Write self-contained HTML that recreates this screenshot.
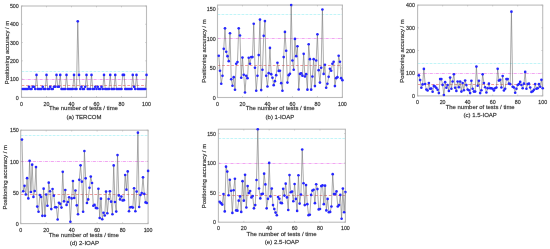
<!DOCTYPE html>
<html><head><meta charset="utf-8"><title>Positioning accuracy comparison</title>
<style>html,body{margin:0;padding:0;background:#fff;width:550px;height:249px;overflow:hidden}
svg{display:block;font-family:"Liberation Sans", Arial, Helvetica, sans-serif;fill:#2b2b2b}
text{stroke:#2b2b2b;stroke-width:0.3px;stroke-opacity:0.5}
.cy{stroke:#c2f5f8;stroke-width:1;stroke-dasharray:2.8,1.2;fill:none}
.mg{stroke:#f2a6f2;stroke-width:1;stroke-dasharray:3.2,1,0.8,1;fill:none}
.rd{stroke:#f19a9a;stroke-width:1;stroke-dasharray:2.8,1.8;fill:none}
.ln{fill:none;stroke:#747474;stroke-width:0.6;stroke-linejoin:round}
.mk circle{fill:#2626ff}
.ax{fill:none;stroke:#bcbcbc;stroke-width:1.1}
.tk{fill:none;stroke:#b0b0b0;stroke-width:0.6}
.t{font-size:5.3px}
</style>
</head><body><svg width="550" height="249" viewBox="0 0 550 249"><g><path class="cy" d="M21.5 71.5H146.5"/><path class="mg" d="M21.5 79.5H146.5"/><path class="rd" d="M21.5 85.5H146.5"/><rect class="ax" x="21.5" y="6" width="125" height="91.4"/><polyline class="ln" points="22.75,88.99 24,88.99 25.25,88.99 26.5,88.99 27.75,88.99 29,86.8 30.25,88.99 31.5,88.99 32.75,86.8 34,86.8 35.25,88.99 36.5,74.92 37.75,88.99 39,88.99 40.25,88.99 41.5,88.99 42.75,86.8 44,88.99 45.25,88.99 46.5,74.92 47.75,88.99 49,88.99 50.25,86.8 51.5,88.99 52.75,88.99 54,86.8 55.25,86.8 56.5,74.92 57.75,86.8 59,86.8 60.25,74.92 61.5,88.99 62.75,88.99 64,88.99 65.25,88.99 66.5,74.92 67.75,88.99 69,88.99 70.25,88.99 71.5,88.99 72.75,88.99 74,74.92 75.25,88.99 76.5,88.99 77.75,21.36 79,74.92 80.25,88.99 81.5,86.8 82.75,88.99 84,88.99 85.25,86.8 86.5,74.92 87.75,88.99 89,88.99 90.25,88.99 91.5,74.92 92.75,88.99 94,88.99 95.25,86.8 96.5,88.99 97.75,86.8 99,88.99 100.25,88.99 101.5,86.8 102.75,88.99 104,74.92 105.25,88.99 106.5,88.99 107.75,88.99 109,88.99 110.25,74.92 111.5,88.99 112.75,88.99 114,88.99 115.25,74.92 116.5,88.99 117.75,88.99 119,88.99 120.25,88.99 121.5,88.99 122.75,74.92 124,74.92 125.25,88.99 126.5,88.99 127.75,88.99 129,88.99 130.25,88.99 131.5,88.99 132.75,74.92 134,86.8 135.25,88.99 136.5,74.92 137.75,88.99 139,88.99 140.25,88.99 141.5,88.99 142.75,88.99 144,88.99 145.25,88.99 146.5,74.92"/><g class="mk"><circle cx="22.75" cy="88.99" r="1.32"/><circle cx="24" cy="88.99" r="1.32"/><circle cx="25.25" cy="88.99" r="1.32"/><circle cx="26.5" cy="88.99" r="1.32"/><circle cx="27.75" cy="88.99" r="1.32"/><circle cx="29" cy="86.8" r="1.32"/><circle cx="30.25" cy="88.99" r="1.32"/><circle cx="31.5" cy="88.99" r="1.32"/><circle cx="32.75" cy="86.8" r="1.32"/><circle cx="34" cy="86.8" r="1.32"/><circle cx="35.25" cy="88.99" r="1.32"/><circle cx="36.5" cy="74.92" r="1.32"/><circle cx="37.75" cy="88.99" r="1.32"/><circle cx="39" cy="88.99" r="1.32"/><circle cx="40.25" cy="88.99" r="1.32"/><circle cx="41.5" cy="88.99" r="1.32"/><circle cx="42.75" cy="86.8" r="1.32"/><circle cx="44" cy="88.99" r="1.32"/><circle cx="45.25" cy="88.99" r="1.32"/><circle cx="46.5" cy="74.92" r="1.32"/><circle cx="47.75" cy="88.99" r="1.32"/><circle cx="49" cy="88.99" r="1.32"/><circle cx="50.25" cy="86.8" r="1.32"/><circle cx="51.5" cy="88.99" r="1.32"/><circle cx="52.75" cy="88.99" r="1.32"/><circle cx="54" cy="86.8" r="1.32"/><circle cx="55.25" cy="86.8" r="1.32"/><circle cx="56.5" cy="74.92" r="1.32"/><circle cx="57.75" cy="86.8" r="1.32"/><circle cx="59" cy="86.8" r="1.32"/><circle cx="60.25" cy="74.92" r="1.32"/><circle cx="61.5" cy="88.99" r="1.32"/><circle cx="62.75" cy="88.99" r="1.32"/><circle cx="64" cy="88.99" r="1.32"/><circle cx="65.25" cy="88.99" r="1.32"/><circle cx="66.5" cy="74.92" r="1.32"/><circle cx="67.75" cy="88.99" r="1.32"/><circle cx="69" cy="88.99" r="1.32"/><circle cx="70.25" cy="88.99" r="1.32"/><circle cx="71.5" cy="88.99" r="1.32"/><circle cx="72.75" cy="88.99" r="1.32"/><circle cx="74" cy="74.92" r="1.32"/><circle cx="75.25" cy="88.99" r="1.32"/><circle cx="76.5" cy="88.99" r="1.32"/><circle cx="77.75" cy="21.36" r="1.32"/><circle cx="79" cy="74.92" r="1.32"/><circle cx="80.25" cy="88.99" r="1.32"/><circle cx="81.5" cy="86.8" r="1.32"/><circle cx="82.75" cy="88.99" r="1.32"/><circle cx="84" cy="88.99" r="1.32"/><circle cx="85.25" cy="86.8" r="1.32"/><circle cx="86.5" cy="74.92" r="1.32"/><circle cx="87.75" cy="88.99" r="1.32"/><circle cx="89" cy="88.99" r="1.32"/><circle cx="90.25" cy="88.99" r="1.32"/><circle cx="91.5" cy="74.92" r="1.32"/><circle cx="92.75" cy="88.99" r="1.32"/><circle cx="94" cy="88.99" r="1.32"/><circle cx="95.25" cy="86.8" r="1.32"/><circle cx="96.5" cy="88.99" r="1.32"/><circle cx="97.75" cy="86.8" r="1.32"/><circle cx="99" cy="88.99" r="1.32"/><circle cx="100.25" cy="88.99" r="1.32"/><circle cx="101.5" cy="86.8" r="1.32"/><circle cx="102.75" cy="88.99" r="1.32"/><circle cx="104" cy="74.92" r="1.32"/><circle cx="105.25" cy="88.99" r="1.32"/><circle cx="106.5" cy="88.99" r="1.32"/><circle cx="107.75" cy="88.99" r="1.32"/><circle cx="109" cy="88.99" r="1.32"/><circle cx="110.25" cy="74.92" r="1.32"/><circle cx="111.5" cy="88.99" r="1.32"/><circle cx="112.75" cy="88.99" r="1.32"/><circle cx="114" cy="88.99" r="1.32"/><circle cx="115.25" cy="74.92" r="1.32"/><circle cx="116.5" cy="88.99" r="1.32"/><circle cx="117.75" cy="88.99" r="1.32"/><circle cx="119" cy="88.99" r="1.32"/><circle cx="120.25" cy="88.99" r="1.32"/><circle cx="121.5" cy="88.99" r="1.32"/><circle cx="122.75" cy="74.92" r="1.32"/><circle cx="124" cy="74.92" r="1.32"/><circle cx="125.25" cy="88.99" r="1.32"/><circle cx="126.5" cy="88.99" r="1.32"/><circle cx="127.75" cy="88.99" r="1.32"/><circle cx="129" cy="88.99" r="1.32"/><circle cx="130.25" cy="88.99" r="1.32"/><circle cx="131.5" cy="88.99" r="1.32"/><circle cx="132.75" cy="74.92" r="1.32"/><circle cx="134" cy="86.8" r="1.32"/><circle cx="135.25" cy="88.99" r="1.32"/><circle cx="136.5" cy="74.92" r="1.32"/><circle cx="137.75" cy="88.99" r="1.32"/><circle cx="139" cy="88.99" r="1.32"/><circle cx="140.25" cy="88.99" r="1.32"/><circle cx="141.5" cy="88.99" r="1.32"/><circle cx="142.75" cy="88.99" r="1.32"/><circle cx="144" cy="88.99" r="1.32"/><circle cx="145.25" cy="88.99" r="1.32"/><circle cx="146.5" cy="74.92" r="1.32"/></g><path class="tk" d="M21.5 97.4V96.1M21.5 6V7.3M46.5 97.4V96.1M46.5 6V7.3M71.5 97.4V96.1M71.5 6V7.3M96.5 97.4V96.1M96.5 6V7.3M121.5 97.4V96.1M121.5 6V7.3M146.5 97.4V96.1M146.5 6V7.3M21.5 97.4H22.8M146.5 97.4H145.2M21.5 79.12H22.8M146.5 79.12H145.2M21.5 60.84H22.8M146.5 60.84H145.2M21.5 42.56H22.8M146.5 42.56H145.2M21.5 24.28H22.8M146.5 24.28H145.2M21.5 6H22.8M146.5 6H145.2"/><text class="t" x="21.5" y="105.5" text-anchor="middle">0</text><text class="t" x="46.5" y="105.5" text-anchor="middle">20</text><text class="t" x="71.5" y="105.5" text-anchor="middle">40</text><text class="t" x="96.5" y="105.5" text-anchor="middle">60</text><text class="t" x="121.5" y="105.5" text-anchor="middle">80</text><text class="t" x="146.5" y="105.5" text-anchor="middle">100</text><text class="t" x="18.75" y="99.6" text-anchor="end">0</text><text class="t" x="18.75" y="81.32" text-anchor="end">100</text><text class="t" x="18.75" y="63.04" text-anchor="end">200</text><text class="t" x="18.75" y="44.76" text-anchor="end">300</text><text class="t" x="18.75" y="26.48" text-anchor="end">400</text><text class="t" x="18.75" y="8.2" text-anchor="end">500</text><text class="xl" x="83.4" y="110.2" text-anchor="middle" font-size="5.95">The number of tests / time</text><text class="yl" transform="translate(8.6,52.6) rotate(-90)" text-anchor="middle" font-size="5.85">Positioning accuracy / m</text><text class="cp" x="84" y="118.6" text-anchor="middle" font-size="6">(a) TERCOM</text></g><g><path class="cy" d="M217.5 14.5H342.4"/><path class="mg" d="M217.5 38.5H342.4"/><path class="rd" d="M217.5 65.5H342.4"/><rect class="ax" x="217.5" y="5.05" width="124.9" height="92.45"/><polyline class="ln" points="218.75,55.7 220,70.76 221.25,83.74 222.5,75.77 223.75,48.85 224.99,28.31 226.24,51.75 227.49,56.17 228.74,61.13 229.99,33.27 231.24,79.2 232.49,85.75 233.74,77.13 234.99,89.71 236.23,63.73 237.48,62.08 238.73,28.31 239.98,35.51 241.23,77.72 242.48,57.59 243.73,74.77 244.98,92.54 246.23,75.77 247.48,78.14 248.72,57.71 249.97,63.73 251.22,57.12 252.47,57.12 253.72,23.71 254.97,67.75 256.22,90.77 257.47,75.77 258.72,55.11 259.97,19.57 261.21,90.12 262.46,69.75 263.71,35.87 264.96,21.11 266.21,75.77 267.46,86.52 268.71,73.18 269.96,47.91 271.21,74.18 272.46,77.72 273.7,85.16 274.95,81.15 276.2,75.18 277.45,62.73 278.7,70.93 279.95,70.76 281.2,83.15 282.45,90.71 283.7,57.12 284.95,31.91 286.19,50.74 287.44,82.56 288.69,75.18 289.94,73.77 291.19,5.05 292.44,60.54 293.69,69.75 294.94,38.88 296.19,56.17 297.44,46.26 298.68,89.53 299.93,73.89 301.18,73.3 302.43,75.66 303.68,53.81 304.93,76.54 306.18,74.18 307.43,89.65 308.68,44.25 309.93,59.13 311.17,89.65 312.42,76.54 313.67,59.13 314.92,86.11 316.17,60.54 317.42,34.33 318.67,70.17 319.92,82.56 321.17,67.75 322.42,9.48 323.66,73.89 324.91,64.74 326.16,87.76 327.41,83.74 328.66,76.84 329.91,68.75 331.16,70.76 332.41,63.73 333.66,61.72 334.91,86.11 336.15,78.14 337.4,77.13 338.65,55.7 339.9,61.72 341.15,78.14 342.4,80.14"/><g class="mk"><circle cx="218.75" cy="55.7" r="1.32"/><circle cx="220" cy="70.76" r="1.32"/><circle cx="221.25" cy="83.74" r="1.32"/><circle cx="222.5" cy="75.77" r="1.32"/><circle cx="223.75" cy="48.85" r="1.32"/><circle cx="224.99" cy="28.31" r="1.32"/><circle cx="226.24" cy="51.75" r="1.32"/><circle cx="227.49" cy="56.17" r="1.32"/><circle cx="228.74" cy="61.13" r="1.32"/><circle cx="229.99" cy="33.27" r="1.32"/><circle cx="231.24" cy="79.2" r="1.32"/><circle cx="232.49" cy="85.75" r="1.32"/><circle cx="233.74" cy="77.13" r="1.32"/><circle cx="234.99" cy="89.71" r="1.32"/><circle cx="236.23" cy="63.73" r="1.32"/><circle cx="237.48" cy="62.08" r="1.32"/><circle cx="238.73" cy="28.31" r="1.32"/><circle cx="239.98" cy="35.51" r="1.32"/><circle cx="241.23" cy="77.72" r="1.32"/><circle cx="242.48" cy="57.59" r="1.32"/><circle cx="243.73" cy="74.77" r="1.32"/><circle cx="244.98" cy="92.54" r="1.32"/><circle cx="246.23" cy="75.77" r="1.32"/><circle cx="247.48" cy="78.14" r="1.32"/><circle cx="248.72" cy="57.71" r="1.32"/><circle cx="249.97" cy="63.73" r="1.32"/><circle cx="251.22" cy="57.12" r="1.32"/><circle cx="252.47" cy="57.12" r="1.32"/><circle cx="253.72" cy="23.71" r="1.32"/><circle cx="254.97" cy="67.75" r="1.32"/><circle cx="256.22" cy="90.77" r="1.32"/><circle cx="257.47" cy="75.77" r="1.32"/><circle cx="258.72" cy="55.11" r="1.32"/><circle cx="259.97" cy="19.57" r="1.32"/><circle cx="261.21" cy="90.12" r="1.32"/><circle cx="262.46" cy="69.75" r="1.32"/><circle cx="263.71" cy="35.87" r="1.32"/><circle cx="264.96" cy="21.11" r="1.32"/><circle cx="266.21" cy="75.77" r="1.32"/><circle cx="267.46" cy="86.52" r="1.32"/><circle cx="268.71" cy="73.18" r="1.32"/><circle cx="269.96" cy="47.91" r="1.32"/><circle cx="271.21" cy="74.18" r="1.32"/><circle cx="272.46" cy="77.72" r="1.32"/><circle cx="273.7" cy="85.16" r="1.32"/><circle cx="274.95" cy="81.15" r="1.32"/><circle cx="276.2" cy="75.18" r="1.32"/><circle cx="277.45" cy="62.73" r="1.32"/><circle cx="278.7" cy="70.93" r="1.32"/><circle cx="279.95" cy="70.76" r="1.32"/><circle cx="281.2" cy="83.15" r="1.32"/><circle cx="282.45" cy="90.71" r="1.32"/><circle cx="283.7" cy="57.12" r="1.32"/><circle cx="284.95" cy="31.91" r="1.32"/><circle cx="286.19" cy="50.74" r="1.32"/><circle cx="287.44" cy="82.56" r="1.32"/><circle cx="288.69" cy="75.18" r="1.32"/><circle cx="289.94" cy="73.77" r="1.32"/><circle cx="291.19" cy="5.05" r="1.32"/><circle cx="292.44" cy="60.54" r="1.32"/><circle cx="293.69" cy="69.75" r="1.32"/><circle cx="294.94" cy="38.88" r="1.32"/><circle cx="296.19" cy="56.17" r="1.32"/><circle cx="297.44" cy="46.26" r="1.32"/><circle cx="298.68" cy="89.53" r="1.32"/><circle cx="299.93" cy="73.89" r="1.32"/><circle cx="301.18" cy="73.3" r="1.32"/><circle cx="302.43" cy="75.66" r="1.32"/><circle cx="303.68" cy="53.81" r="1.32"/><circle cx="304.93" cy="76.54" r="1.32"/><circle cx="306.18" cy="74.18" r="1.32"/><circle cx="307.43" cy="89.65" r="1.32"/><circle cx="308.68" cy="44.25" r="1.32"/><circle cx="309.93" cy="59.13" r="1.32"/><circle cx="311.17" cy="89.65" r="1.32"/><circle cx="312.42" cy="76.54" r="1.32"/><circle cx="313.67" cy="59.13" r="1.32"/><circle cx="314.92" cy="86.11" r="1.32"/><circle cx="316.17" cy="60.54" r="1.32"/><circle cx="317.42" cy="34.33" r="1.32"/><circle cx="318.67" cy="70.17" r="1.32"/><circle cx="319.92" cy="82.56" r="1.32"/><circle cx="321.17" cy="67.75" r="1.32"/><circle cx="322.42" cy="9.48" r="1.32"/><circle cx="323.66" cy="73.89" r="1.32"/><circle cx="324.91" cy="64.74" r="1.32"/><circle cx="326.16" cy="87.76" r="1.32"/><circle cx="327.41" cy="83.74" r="1.32"/><circle cx="328.66" cy="76.84" r="1.32"/><circle cx="329.91" cy="68.75" r="1.32"/><circle cx="331.16" cy="70.76" r="1.32"/><circle cx="332.41" cy="63.73" r="1.32"/><circle cx="333.66" cy="61.72" r="1.32"/><circle cx="334.91" cy="86.11" r="1.32"/><circle cx="336.15" cy="78.14" r="1.32"/><circle cx="337.4" cy="77.13" r="1.32"/><circle cx="338.65" cy="55.7" r="1.32"/><circle cx="339.9" cy="61.72" r="1.32"/><circle cx="341.15" cy="78.14" r="1.32"/><circle cx="342.4" cy="80.14" r="1.32"/></g><path class="tk" d="M217.5 97.5V96.2M217.5 5.05V6.35M242.48 97.5V96.2M242.48 5.05V6.35M267.46 97.5V96.2M267.46 5.05V6.35M292.44 97.5V96.2M292.44 5.05V6.35M317.42 97.5V96.2M317.42 5.05V6.35M342.4 97.5V96.2M342.4 5.05V6.35M217.5 97.5H218.8M342.4 97.5H341.1M217.5 67.98H218.8M342.4 67.98H341.1M217.5 38.46H218.8M342.4 38.46H341.1M217.5 8.95H218.8M342.4 8.95H341.1"/><text class="t" x="217.5" y="105.65" text-anchor="middle">0</text><text class="t" x="242.48" y="105.65" text-anchor="middle">20</text><text class="t" x="267.46" y="105.65" text-anchor="middle">40</text><text class="t" x="292.44" y="105.65" text-anchor="middle">60</text><text class="t" x="317.42" y="105.65" text-anchor="middle">80</text><text class="t" x="342.4" y="105.65" text-anchor="middle">100</text><text class="t" x="215.7" y="99.7" text-anchor="end">0</text><text class="t" x="215.7" y="70.18" text-anchor="end">50</text><text class="t" x="215.7" y="40.66" text-anchor="end">100</text><text class="t" x="215.7" y="11.15" text-anchor="end">150</text><text class="xl" x="280.15" y="110.4" text-anchor="middle" font-size="5.95">The number of tests / time</text><text class="yl" transform="translate(205.8,51.1) rotate(-90)" text-anchor="middle" font-size="5.85">Positioning accuracy / m</text><text class="cp" x="279.95" y="118.5" text-anchor="middle" font-size="6">(b) 1-IOAP</text></g><g><path class="cy" d="M417.6 63.5H542.7"/><path class="mg" d="M417.6 73.5H542.7"/><path class="rd" d="M417.6 84.5H542.7"/><rect class="ax" x="417.6" y="5.1" width="125.1" height="90.8"/><polyline class="ln" points="418.85,75.31 420.1,80.1 421.35,87.8 422.6,84.39 423.86,68.91 425.11,84.01 426.36,89.5 427.61,90.5 428.86,83.01 430.11,88.79 431.36,88.5 432.61,91.7 433.86,85.91 435.11,86.59 436.37,88 437.62,89.79 438.87,93.11 440.12,79.1 441.37,79.1 442.62,84.89 443.87,94.99 445.12,82.19 446.37,87.73 447.62,85.09 448.88,90.91 450.13,77.6 451.38,88.7 452.63,81.51 453.88,74.29 455.13,87.73 456.38,90.91 457.63,81.51 458.88,87.3 460.13,81.51 461.39,91.61 462.64,83.01 463.89,90.2 465.14,80.51 466.39,85.09 467.64,89.5 468.89,90.2 470.14,93.11 471.39,80.8 472.64,88.7 473.9,91.61 475.15,91.61 476.4,66.62 477.65,85.8 478.9,80.8 480.15,93.11 481.4,90.2 482.65,74.34 483.9,82.96 485.15,87.27 486.41,92.5 487.66,88.2 488.91,83.66 490.16,88.2 491.41,88.2 492.66,88.7 493.91,90.52 495.16,88.2 496.41,87.5 497.66,68.84 498.92,80.6 500.17,79.83 501.42,87.5 502.67,76.01 503.92,90.52 505.17,88.7 506.42,79.1 507.67,79.1 508.92,83.66 510.17,84.12 511.43,11.68 512.68,86.71 513.93,87.5 515.18,92.79 516.43,88.7 517.68,85.05 518.93,84.12 520.18,81.89 521.43,85.05 522.68,88.2 523.94,83.66 525.19,71.91 526.44,88.7 527.69,84.12 528.94,83.66 530.19,87.5 531.44,92.04 532.69,91.29 533.94,89.79 535.19,84.12 536.45,88.7 537.7,88.2 538.95,84.12 540.2,86.71 541.45,79.83 542.7,88.2"/><g class="mk"><circle cx="418.85" cy="75.31" r="1.32"/><circle cx="420.1" cy="80.1" r="1.32"/><circle cx="421.35" cy="87.8" r="1.32"/><circle cx="422.6" cy="84.39" r="1.32"/><circle cx="423.86" cy="68.91" r="1.32"/><circle cx="425.11" cy="84.01" r="1.32"/><circle cx="426.36" cy="89.5" r="1.32"/><circle cx="427.61" cy="90.5" r="1.32"/><circle cx="428.86" cy="83.01" r="1.32"/><circle cx="430.11" cy="88.79" r="1.32"/><circle cx="431.36" cy="88.5" r="1.32"/><circle cx="432.61" cy="91.7" r="1.32"/><circle cx="433.86" cy="85.91" r="1.32"/><circle cx="435.11" cy="86.59" r="1.32"/><circle cx="436.37" cy="88" r="1.32"/><circle cx="437.62" cy="89.79" r="1.32"/><circle cx="438.87" cy="93.11" r="1.32"/><circle cx="440.12" cy="79.1" r="1.32"/><circle cx="441.37" cy="79.1" r="1.32"/><circle cx="442.62" cy="84.89" r="1.32"/><circle cx="443.87" cy="94.99" r="1.32"/><circle cx="445.12" cy="82.19" r="1.32"/><circle cx="446.37" cy="87.73" r="1.32"/><circle cx="447.62" cy="85.09" r="1.32"/><circle cx="448.88" cy="90.91" r="1.32"/><circle cx="450.13" cy="77.6" r="1.32"/><circle cx="451.38" cy="88.7" r="1.32"/><circle cx="452.63" cy="81.51" r="1.32"/><circle cx="453.88" cy="74.29" r="1.32"/><circle cx="455.13" cy="87.73" r="1.32"/><circle cx="456.38" cy="90.91" r="1.32"/><circle cx="457.63" cy="81.51" r="1.32"/><circle cx="458.88" cy="87.3" r="1.32"/><circle cx="460.13" cy="81.51" r="1.32"/><circle cx="461.39" cy="91.61" r="1.32"/><circle cx="462.64" cy="83.01" r="1.32"/><circle cx="463.89" cy="90.2" r="1.32"/><circle cx="465.14" cy="80.51" r="1.32"/><circle cx="466.39" cy="85.09" r="1.32"/><circle cx="467.64" cy="89.5" r="1.32"/><circle cx="468.89" cy="90.2" r="1.32"/><circle cx="470.14" cy="93.11" r="1.32"/><circle cx="471.39" cy="80.8" r="1.32"/><circle cx="472.64" cy="88.7" r="1.32"/><circle cx="473.9" cy="91.61" r="1.32"/><circle cx="475.15" cy="91.61" r="1.32"/><circle cx="476.4" cy="66.62" r="1.32"/><circle cx="477.65" cy="85.8" r="1.32"/><circle cx="478.9" cy="80.8" r="1.32"/><circle cx="480.15" cy="93.11" r="1.32"/><circle cx="481.4" cy="90.2" r="1.32"/><circle cx="482.65" cy="74.34" r="1.32"/><circle cx="483.9" cy="82.96" r="1.32"/><circle cx="485.15" cy="87.27" r="1.32"/><circle cx="486.41" cy="92.5" r="1.32"/><circle cx="487.66" cy="88.2" r="1.32"/><circle cx="488.91" cy="83.66" r="1.32"/><circle cx="490.16" cy="88.2" r="1.32"/><circle cx="491.41" cy="88.2" r="1.32"/><circle cx="492.66" cy="88.7" r="1.32"/><circle cx="493.91" cy="90.52" r="1.32"/><circle cx="495.16" cy="88.2" r="1.32"/><circle cx="496.41" cy="87.5" r="1.32"/><circle cx="497.66" cy="68.84" r="1.32"/><circle cx="498.92" cy="80.6" r="1.32"/><circle cx="500.17" cy="79.83" r="1.32"/><circle cx="501.42" cy="87.5" r="1.32"/><circle cx="502.67" cy="76.01" r="1.32"/><circle cx="503.92" cy="90.52" r="1.32"/><circle cx="505.17" cy="88.7" r="1.32"/><circle cx="506.42" cy="79.1" r="1.32"/><circle cx="507.67" cy="79.1" r="1.32"/><circle cx="508.92" cy="83.66" r="1.32"/><circle cx="510.17" cy="84.12" r="1.32"/><circle cx="511.43" cy="11.68" r="1.32"/><circle cx="512.68" cy="86.71" r="1.32"/><circle cx="513.93" cy="87.5" r="1.32"/><circle cx="515.18" cy="92.79" r="1.32"/><circle cx="516.43" cy="88.7" r="1.32"/><circle cx="517.68" cy="85.05" r="1.32"/><circle cx="518.93" cy="84.12" r="1.32"/><circle cx="520.18" cy="81.89" r="1.32"/><circle cx="521.43" cy="85.05" r="1.32"/><circle cx="522.68" cy="88.2" r="1.32"/><circle cx="523.94" cy="83.66" r="1.32"/><circle cx="525.19" cy="71.91" r="1.32"/><circle cx="526.44" cy="88.7" r="1.32"/><circle cx="527.69" cy="84.12" r="1.32"/><circle cx="528.94" cy="83.66" r="1.32"/><circle cx="530.19" cy="87.5" r="1.32"/><circle cx="531.44" cy="92.04" r="1.32"/><circle cx="532.69" cy="91.29" r="1.32"/><circle cx="533.94" cy="89.79" r="1.32"/><circle cx="535.19" cy="84.12" r="1.32"/><circle cx="536.45" cy="88.7" r="1.32"/><circle cx="537.7" cy="88.2" r="1.32"/><circle cx="538.95" cy="84.12" r="1.32"/><circle cx="540.2" cy="86.71" r="1.32"/><circle cx="541.45" cy="79.83" r="1.32"/><circle cx="542.7" cy="88.2" r="1.32"/></g><path class="tk" d="M417.6 95.9V94.6M417.6 5.1V6.4M442.62 95.9V94.6M442.62 5.1V6.4M467.64 95.9V94.6M467.64 5.1V6.4M492.66 95.9V94.6M492.66 5.1V6.4M517.68 95.9V94.6M517.68 5.1V6.4M542.7 95.9V94.6M542.7 5.1V6.4M417.6 95.9H418.9M542.7 95.9H541.4M417.6 73.2H418.9M542.7 73.2H541.4M417.6 50.5H418.9M542.7 50.5H541.4M417.6 27.8H418.9M542.7 27.8H541.4M417.6 5.1H418.9M542.7 5.1H541.4"/><text class="t" x="417.6" y="103.9" text-anchor="middle">0</text><text class="t" x="442.62" y="103.9" text-anchor="middle">20</text><text class="t" x="467.64" y="103.9" text-anchor="middle">40</text><text class="t" x="492.66" y="103.9" text-anchor="middle">60</text><text class="t" x="517.68" y="103.9" text-anchor="middle">80</text><text class="t" x="542.7" y="103.9" text-anchor="middle">100</text><text class="t" x="414.85" y="98.1" text-anchor="end">0</text><text class="t" x="414.85" y="75.4" text-anchor="end">100</text><text class="t" x="414.85" y="52.7" text-anchor="end">200</text><text class="t" x="414.85" y="30" text-anchor="end">300</text><text class="t" x="414.85" y="7.3" text-anchor="end">400</text><text class="xl" x="480.15" y="108.6" text-anchor="middle" font-size="5.95">The number of tests / time</text><text class="yl" transform="translate(404.4,51.1) rotate(-90)" text-anchor="middle" font-size="5.85">Positioning accuracy / m</text><text class="cp" x="480.15" y="116.5" text-anchor="middle" font-size="6">(c) 1.5-IOAP</text></g><g><path class="cy" d="M20.7 135.5H148.1"/><path class="mg" d="M20.7 161.5H148.1"/><path class="rd" d="M20.7 194.5H148.1"/><rect class="ax" x="20.7" y="130.2" width="127.4" height="93.4"/><polyline class="ln" points="21.97,139.6 23.25,191.22 24.52,185.87 25.8,194.46 27.07,178.15 28.34,198.38 29.62,160.84 30.89,191.97 32.17,164.63 33.44,196.89 34.71,190.97 35.99,167.12 37.26,206.6 38.54,211.77 39.81,194.96 41.08,196.89 42.36,215.82 43.63,188.67 44.91,215.82 46.18,194.46 47.45,205.79 48.73,182.63 50,191.22 51.28,209.09 52.55,188.98 53.82,195.64 55.1,207.29 56.37,207.29 57.65,219.49 58.92,202.87 60.19,203.86 61.47,207.6 62.74,171.86 64.02,201.37 65.29,190.04 66.56,204.92 67.84,201.99 69.11,197.2 70.39,221.73 71.66,198.38 72.93,180.95 74.21,197.95 75.48,190.47 76.76,205.36 78.03,214.26 79.3,179.83 80.58,165.32 81.85,181.63 83.13,211.77 84.4,151 85.67,178.33 86.95,203.05 88.22,199.38 89.5,187.8 90.77,176.59 92.04,183 93.32,205.79 94.59,204.92 95.87,207.91 97.14,208.28 98.41,188.73 99.69,218 100.96,198.69 102.24,219.24 103.51,212.77 104.78,215.51 106.06,191.59 107.33,213.2 108.61,199 109.88,191.22 111.15,201.68 112.43,214.26 113.7,165.44 114.98,201.99 116.25,211.58 117.52,155.11 118.8,195.39 120.07,199.38 121.35,196.45 122.62,200.5 123.89,200.19 125.17,174.97 126.44,189.66 127.72,171.42 128.99,211.27 130.26,207.29 131.54,206.97 132.81,207.6 134.09,188.23 135.36,211.27 136.63,191.59 137.91,132.63 139.18,206.97 140.46,194.96 141.73,193.09 143,177.34 144.28,193.9 145.55,202.43 146.83,203.05 148.1,170.92"/><g class="mk"><circle cx="21.97" cy="139.6" r="1.32"/><circle cx="23.25" cy="191.22" r="1.32"/><circle cx="24.52" cy="185.87" r="1.32"/><circle cx="25.8" cy="194.46" r="1.32"/><circle cx="27.07" cy="178.15" r="1.32"/><circle cx="28.34" cy="198.38" r="1.32"/><circle cx="29.62" cy="160.84" r="1.32"/><circle cx="30.89" cy="191.97" r="1.32"/><circle cx="32.17" cy="164.63" r="1.32"/><circle cx="33.44" cy="196.89" r="1.32"/><circle cx="34.71" cy="190.97" r="1.32"/><circle cx="35.99" cy="167.12" r="1.32"/><circle cx="37.26" cy="206.6" r="1.32"/><circle cx="38.54" cy="211.77" r="1.32"/><circle cx="39.81" cy="194.96" r="1.32"/><circle cx="41.08" cy="196.89" r="1.32"/><circle cx="42.36" cy="215.82" r="1.32"/><circle cx="43.63" cy="188.67" r="1.32"/><circle cx="44.91" cy="215.82" r="1.32"/><circle cx="46.18" cy="194.46" r="1.32"/><circle cx="47.45" cy="205.79" r="1.32"/><circle cx="48.73" cy="182.63" r="1.32"/><circle cx="50" cy="191.22" r="1.32"/><circle cx="51.28" cy="209.09" r="1.32"/><circle cx="52.55" cy="188.98" r="1.32"/><circle cx="53.82" cy="195.64" r="1.32"/><circle cx="55.1" cy="207.29" r="1.32"/><circle cx="56.37" cy="207.29" r="1.32"/><circle cx="57.65" cy="219.49" r="1.32"/><circle cx="58.92" cy="202.87" r="1.32"/><circle cx="60.19" cy="203.86" r="1.32"/><circle cx="61.47" cy="207.6" r="1.32"/><circle cx="62.74" cy="171.86" r="1.32"/><circle cx="64.02" cy="201.37" r="1.32"/><circle cx="65.29" cy="190.04" r="1.32"/><circle cx="66.56" cy="204.92" r="1.32"/><circle cx="67.84" cy="201.99" r="1.32"/><circle cx="69.11" cy="197.2" r="1.32"/><circle cx="70.39" cy="221.73" r="1.32"/><circle cx="71.66" cy="198.38" r="1.32"/><circle cx="72.93" cy="180.95" r="1.32"/><circle cx="74.21" cy="197.95" r="1.32"/><circle cx="75.48" cy="190.47" r="1.32"/><circle cx="76.76" cy="205.36" r="1.32"/><circle cx="78.03" cy="214.26" r="1.32"/><circle cx="79.3" cy="179.83" r="1.32"/><circle cx="80.58" cy="165.32" r="1.32"/><circle cx="81.85" cy="181.63" r="1.32"/><circle cx="83.13" cy="211.77" r="1.32"/><circle cx="84.4" cy="151" r="1.32"/><circle cx="85.67" cy="178.33" r="1.32"/><circle cx="86.95" cy="203.05" r="1.32"/><circle cx="88.22" cy="199.38" r="1.32"/><circle cx="89.5" cy="187.8" r="1.32"/><circle cx="90.77" cy="176.59" r="1.32"/><circle cx="92.04" cy="183" r="1.32"/><circle cx="93.32" cy="205.79" r="1.32"/><circle cx="94.59" cy="204.92" r="1.32"/><circle cx="95.87" cy="207.91" r="1.32"/><circle cx="97.14" cy="208.28" r="1.32"/><circle cx="98.41" cy="188.73" r="1.32"/><circle cx="99.69" cy="218" r="1.32"/><circle cx="100.96" cy="198.69" r="1.32"/><circle cx="102.24" cy="219.24" r="1.32"/><circle cx="103.51" cy="212.77" r="1.32"/><circle cx="104.78" cy="215.51" r="1.32"/><circle cx="106.06" cy="191.59" r="1.32"/><circle cx="107.33" cy="213.2" r="1.32"/><circle cx="108.61" cy="199" r="1.32"/><circle cx="109.88" cy="191.22" r="1.32"/><circle cx="111.15" cy="201.68" r="1.32"/><circle cx="112.43" cy="214.26" r="1.32"/><circle cx="113.7" cy="165.44" r="1.32"/><circle cx="114.98" cy="201.99" r="1.32"/><circle cx="116.25" cy="211.58" r="1.32"/><circle cx="117.52" cy="155.11" r="1.32"/><circle cx="118.8" cy="195.39" r="1.32"/><circle cx="120.07" cy="199.38" r="1.32"/><circle cx="121.35" cy="196.45" r="1.32"/><circle cx="122.62" cy="200.5" r="1.32"/><circle cx="123.89" cy="200.19" r="1.32"/><circle cx="125.17" cy="174.97" r="1.32"/><circle cx="126.44" cy="189.66" r="1.32"/><circle cx="127.72" cy="171.42" r="1.32"/><circle cx="128.99" cy="211.27" r="1.32"/><circle cx="130.26" cy="207.29" r="1.32"/><circle cx="131.54" cy="206.97" r="1.32"/><circle cx="132.81" cy="207.6" r="1.32"/><circle cx="134.09" cy="188.23" r="1.32"/><circle cx="135.36" cy="211.27" r="1.32"/><circle cx="136.63" cy="191.59" r="1.32"/><circle cx="137.91" cy="132.63" r="1.32"/><circle cx="139.18" cy="206.97" r="1.32"/><circle cx="140.46" cy="194.96" r="1.32"/><circle cx="141.73" cy="193.09" r="1.32"/><circle cx="143" cy="177.34" r="1.32"/><circle cx="144.28" cy="193.9" r="1.32"/><circle cx="145.55" cy="202.43" r="1.32"/><circle cx="146.83" cy="203.05" r="1.32"/><circle cx="148.1" cy="170.92" r="1.32"/></g><path class="tk" d="M20.7 223.6V222.3M20.7 130.2V131.5M46.18 223.6V222.3M46.18 130.2V131.5M71.66 223.6V222.3M71.66 130.2V131.5M97.14 223.6V222.3M97.14 130.2V131.5M122.62 223.6V222.3M122.62 130.2V131.5M148.1 223.6V222.3M148.1 130.2V131.5M20.7 223.6H22M148.1 223.6H146.8M20.7 192.47H22M148.1 192.47H146.8M20.7 161.33H22M148.1 161.33H146.8M20.7 130.2H22M148.1 130.2H146.8"/><text class="t" x="20.7" y="231.5" text-anchor="middle">0</text><text class="t" x="46.18" y="231.5" text-anchor="middle">20</text><text class="t" x="71.66" y="231.5" text-anchor="middle">40</text><text class="t" x="97.14" y="231.5" text-anchor="middle">60</text><text class="t" x="122.62" y="231.5" text-anchor="middle">80</text><text class="t" x="148.1" y="231.5" text-anchor="middle">100</text><text class="t" x="18.8" y="225.8" text-anchor="end">0</text><text class="t" x="18.8" y="194.67" text-anchor="end">50</text><text class="t" x="18.8" y="163.53" text-anchor="end">100</text><text class="t" x="18.8" y="132.4" text-anchor="end">150</text><text class="xl" x="83.8" y="236.5" text-anchor="middle" font-size="6.06">The number of tests / time</text><text class="yl" transform="translate(7,177.3) rotate(-90)" text-anchor="middle" font-size="5.96">Positioning accuracy / m</text><text class="cp" x="84.4" y="245.2" text-anchor="middle" font-size="6.12">(d) 2-IOAP</text></g><g><path class="cy" d="M218.4 138.5H345.4"/><path class="mg" d="M218.4 163.5H345.4"/><path class="rd" d="M218.4 195.5H345.4"/><rect class="ax" x="218.4" y="129.2" width="127" height="93"/><polyline class="ln" points="219.67,201.7 220.94,203.17 222.21,204.59 223.48,194.08 224.75,211.39 226.02,166.66 227.29,171.56 228.56,195.2 229.83,179.78 231.1,190.71 232.37,212.92 233.64,190.29 234.91,178.77 236.18,210.38 237.45,210.68 238.72,200.69 239.99,196.38 241.26,211.92 242.53,181.19 243.8,200.69 245.07,174.87 246.34,207.49 247.61,186.1 248.88,193.07 250.15,191 251.42,197.38 252.69,195.97 253.96,208.31 255.23,205.07 256.5,180.01 257.77,129.2 259.04,188.52 260.31,198.39 261.58,194.08 262.85,193.84 264.12,173.69 265.39,184.39 266.66,208.31 267.93,198.86 269.2,162.88 270.47,196.38 271.74,188.58 273.01,205.07 274.28,208.96 275.55,212.57 276.82,215.23 278.09,196.97 279.36,198.86 280.63,202.82 281.9,203.17 283.17,188.82 284.44,195.61 285.71,183.68 286.98,197.38 288.25,209.97 289.52,175.11 290.79,192.3 292.06,191.59 293.33,201.28 294.6,183.97 295.87,198.92 297.14,210.91 298.41,175.29 299.68,203.59 300.95,194.49 302.22,149.53 303.49,183.26 304.76,205.07 306.03,185.09 307.3,204.18 308.57,215.17 309.84,214.7 311.11,194.9 312.38,190.59 313.65,189.7 314.92,203.17 316.19,184.27 317.46,189.11 318.73,209.38 320,208.96 321.27,186.1 322.54,185.39 323.81,204.18 325.08,185.69 326.35,210.38 327.62,198.92 328.89,212.27 330.16,211.92 331.43,206.48 332.7,174.16 333.97,194.08 335.24,194.08 336.51,191.42 337.78,206.48 339.05,205.07 340.32,194.9 341.59,218.77 342.86,188.58 344.13,212.27 345.4,192.07"/><g class="mk"><circle cx="219.67" cy="201.7" r="1.32"/><circle cx="220.94" cy="203.17" r="1.32"/><circle cx="222.21" cy="204.59" r="1.32"/><circle cx="223.48" cy="194.08" r="1.32"/><circle cx="224.75" cy="211.39" r="1.32"/><circle cx="226.02" cy="166.66" r="1.32"/><circle cx="227.29" cy="171.56" r="1.32"/><circle cx="228.56" cy="195.2" r="1.32"/><circle cx="229.83" cy="179.78" r="1.32"/><circle cx="231.1" cy="190.71" r="1.32"/><circle cx="232.37" cy="212.92" r="1.32"/><circle cx="233.64" cy="190.29" r="1.32"/><circle cx="234.91" cy="178.77" r="1.32"/><circle cx="236.18" cy="210.38" r="1.32"/><circle cx="237.45" cy="210.68" r="1.32"/><circle cx="238.72" cy="200.69" r="1.32"/><circle cx="239.99" cy="196.38" r="1.32"/><circle cx="241.26" cy="211.92" r="1.32"/><circle cx="242.53" cy="181.19" r="1.32"/><circle cx="243.8" cy="200.69" r="1.32"/><circle cx="245.07" cy="174.87" r="1.32"/><circle cx="246.34" cy="207.49" r="1.32"/><circle cx="247.61" cy="186.1" r="1.32"/><circle cx="248.88" cy="193.07" r="1.32"/><circle cx="250.15" cy="191" r="1.32"/><circle cx="251.42" cy="197.38" r="1.32"/><circle cx="252.69" cy="195.97" r="1.32"/><circle cx="253.96" cy="208.31" r="1.32"/><circle cx="255.23" cy="205.07" r="1.32"/><circle cx="256.5" cy="180.01" r="1.32"/><circle cx="257.77" cy="129.2" r="1.32"/><circle cx="259.04" cy="188.52" r="1.32"/><circle cx="260.31" cy="198.39" r="1.32"/><circle cx="261.58" cy="194.08" r="1.32"/><circle cx="262.85" cy="193.84" r="1.32"/><circle cx="264.12" cy="173.69" r="1.32"/><circle cx="265.39" cy="184.39" r="1.32"/><circle cx="266.66" cy="208.31" r="1.32"/><circle cx="267.93" cy="198.86" r="1.32"/><circle cx="269.2" cy="162.88" r="1.32"/><circle cx="270.47" cy="196.38" r="1.32"/><circle cx="271.74" cy="188.58" r="1.32"/><circle cx="273.01" cy="205.07" r="1.32"/><circle cx="274.28" cy="208.96" r="1.32"/><circle cx="275.55" cy="212.57" r="1.32"/><circle cx="276.82" cy="215.23" r="1.32"/><circle cx="278.09" cy="196.97" r="1.32"/><circle cx="279.36" cy="198.86" r="1.32"/><circle cx="280.63" cy="202.82" r="1.32"/><circle cx="281.9" cy="203.17" r="1.32"/><circle cx="283.17" cy="188.82" r="1.32"/><circle cx="284.44" cy="195.61" r="1.32"/><circle cx="285.71" cy="183.68" r="1.32"/><circle cx="286.98" cy="197.38" r="1.32"/><circle cx="288.25" cy="209.97" r="1.32"/><circle cx="289.52" cy="175.11" r="1.32"/><circle cx="290.79" cy="192.3" r="1.32"/><circle cx="292.06" cy="191.59" r="1.32"/><circle cx="293.33" cy="201.28" r="1.32"/><circle cx="294.6" cy="183.97" r="1.32"/><circle cx="295.87" cy="198.92" r="1.32"/><circle cx="297.14" cy="210.91" r="1.32"/><circle cx="298.41" cy="175.29" r="1.32"/><circle cx="299.68" cy="203.59" r="1.32"/><circle cx="300.95" cy="194.49" r="1.32"/><circle cx="302.22" cy="149.53" r="1.32"/><circle cx="303.49" cy="183.26" r="1.32"/><circle cx="304.76" cy="205.07" r="1.32"/><circle cx="306.03" cy="185.09" r="1.32"/><circle cx="307.3" cy="204.18" r="1.32"/><circle cx="308.57" cy="215.17" r="1.32"/><circle cx="309.84" cy="214.7" r="1.32"/><circle cx="311.11" cy="194.9" r="1.32"/><circle cx="312.38" cy="190.59" r="1.32"/><circle cx="313.65" cy="189.7" r="1.32"/><circle cx="314.92" cy="203.17" r="1.32"/><circle cx="316.19" cy="184.27" r="1.32"/><circle cx="317.46" cy="189.11" r="1.32"/><circle cx="318.73" cy="209.38" r="1.32"/><circle cx="320" cy="208.96" r="1.32"/><circle cx="321.27" cy="186.1" r="1.32"/><circle cx="322.54" cy="185.39" r="1.32"/><circle cx="323.81" cy="204.18" r="1.32"/><circle cx="325.08" cy="185.69" r="1.32"/><circle cx="326.35" cy="210.38" r="1.32"/><circle cx="327.62" cy="198.92" r="1.32"/><circle cx="328.89" cy="212.27" r="1.32"/><circle cx="330.16" cy="211.92" r="1.32"/><circle cx="331.43" cy="206.48" r="1.32"/><circle cx="332.7" cy="174.16" r="1.32"/><circle cx="333.97" cy="194.08" r="1.32"/><circle cx="335.24" cy="194.08" r="1.32"/><circle cx="336.51" cy="191.42" r="1.32"/><circle cx="337.78" cy="206.48" r="1.32"/><circle cx="339.05" cy="205.07" r="1.32"/><circle cx="340.32" cy="194.9" r="1.32"/><circle cx="341.59" cy="218.77" r="1.32"/><circle cx="342.86" cy="188.58" r="1.32"/><circle cx="344.13" cy="212.27" r="1.32"/><circle cx="345.4" cy="192.07" r="1.32"/></g><path class="tk" d="M218.4 222.2V220.9M218.4 129.2V130.5M243.8 222.2V220.9M243.8 129.2V130.5M269.2 222.2V220.9M269.2 129.2V130.5M294.6 222.2V220.9M294.6 129.2V130.5M320 222.2V220.9M320 129.2V130.5M345.4 222.2V220.9M345.4 129.2V130.5M218.4 222.2H219.7M345.4 222.2H344.1M218.4 192.66H219.7M345.4 192.66H344.1M218.4 163.11H219.7M345.4 163.11H344.1M218.4 133.57H219.7M345.4 133.57H344.1"/><text class="t" x="218.4" y="230.2" text-anchor="middle">0</text><text class="t" x="243.8" y="230.2" text-anchor="middle">20</text><text class="t" x="269.2" y="230.2" text-anchor="middle">40</text><text class="t" x="294.6" y="230.2" text-anchor="middle">60</text><text class="t" x="320" y="230.2" text-anchor="middle">80</text><text class="t" x="345.4" y="230.2" text-anchor="middle">100</text><text class="t" x="216" y="224.4" text-anchor="end">0</text><text class="t" x="216" y="194.86" text-anchor="end">50</text><text class="t" x="216" y="165.31" text-anchor="end">100</text><text class="t" x="216" y="135.77" text-anchor="end">150</text><text class="xl" x="281.6" y="235.5" text-anchor="middle" font-size="6.05">The number of tests / time</text><text class="yl" transform="translate(205.6,176.1) rotate(-90)" text-anchor="middle" font-size="5.94">Positioning accuracy / m</text><text class="cp" x="281.9" y="244.2" text-anchor="middle" font-size="6.1">(e) 2.5-IOAP</text></g></svg></body></html>
